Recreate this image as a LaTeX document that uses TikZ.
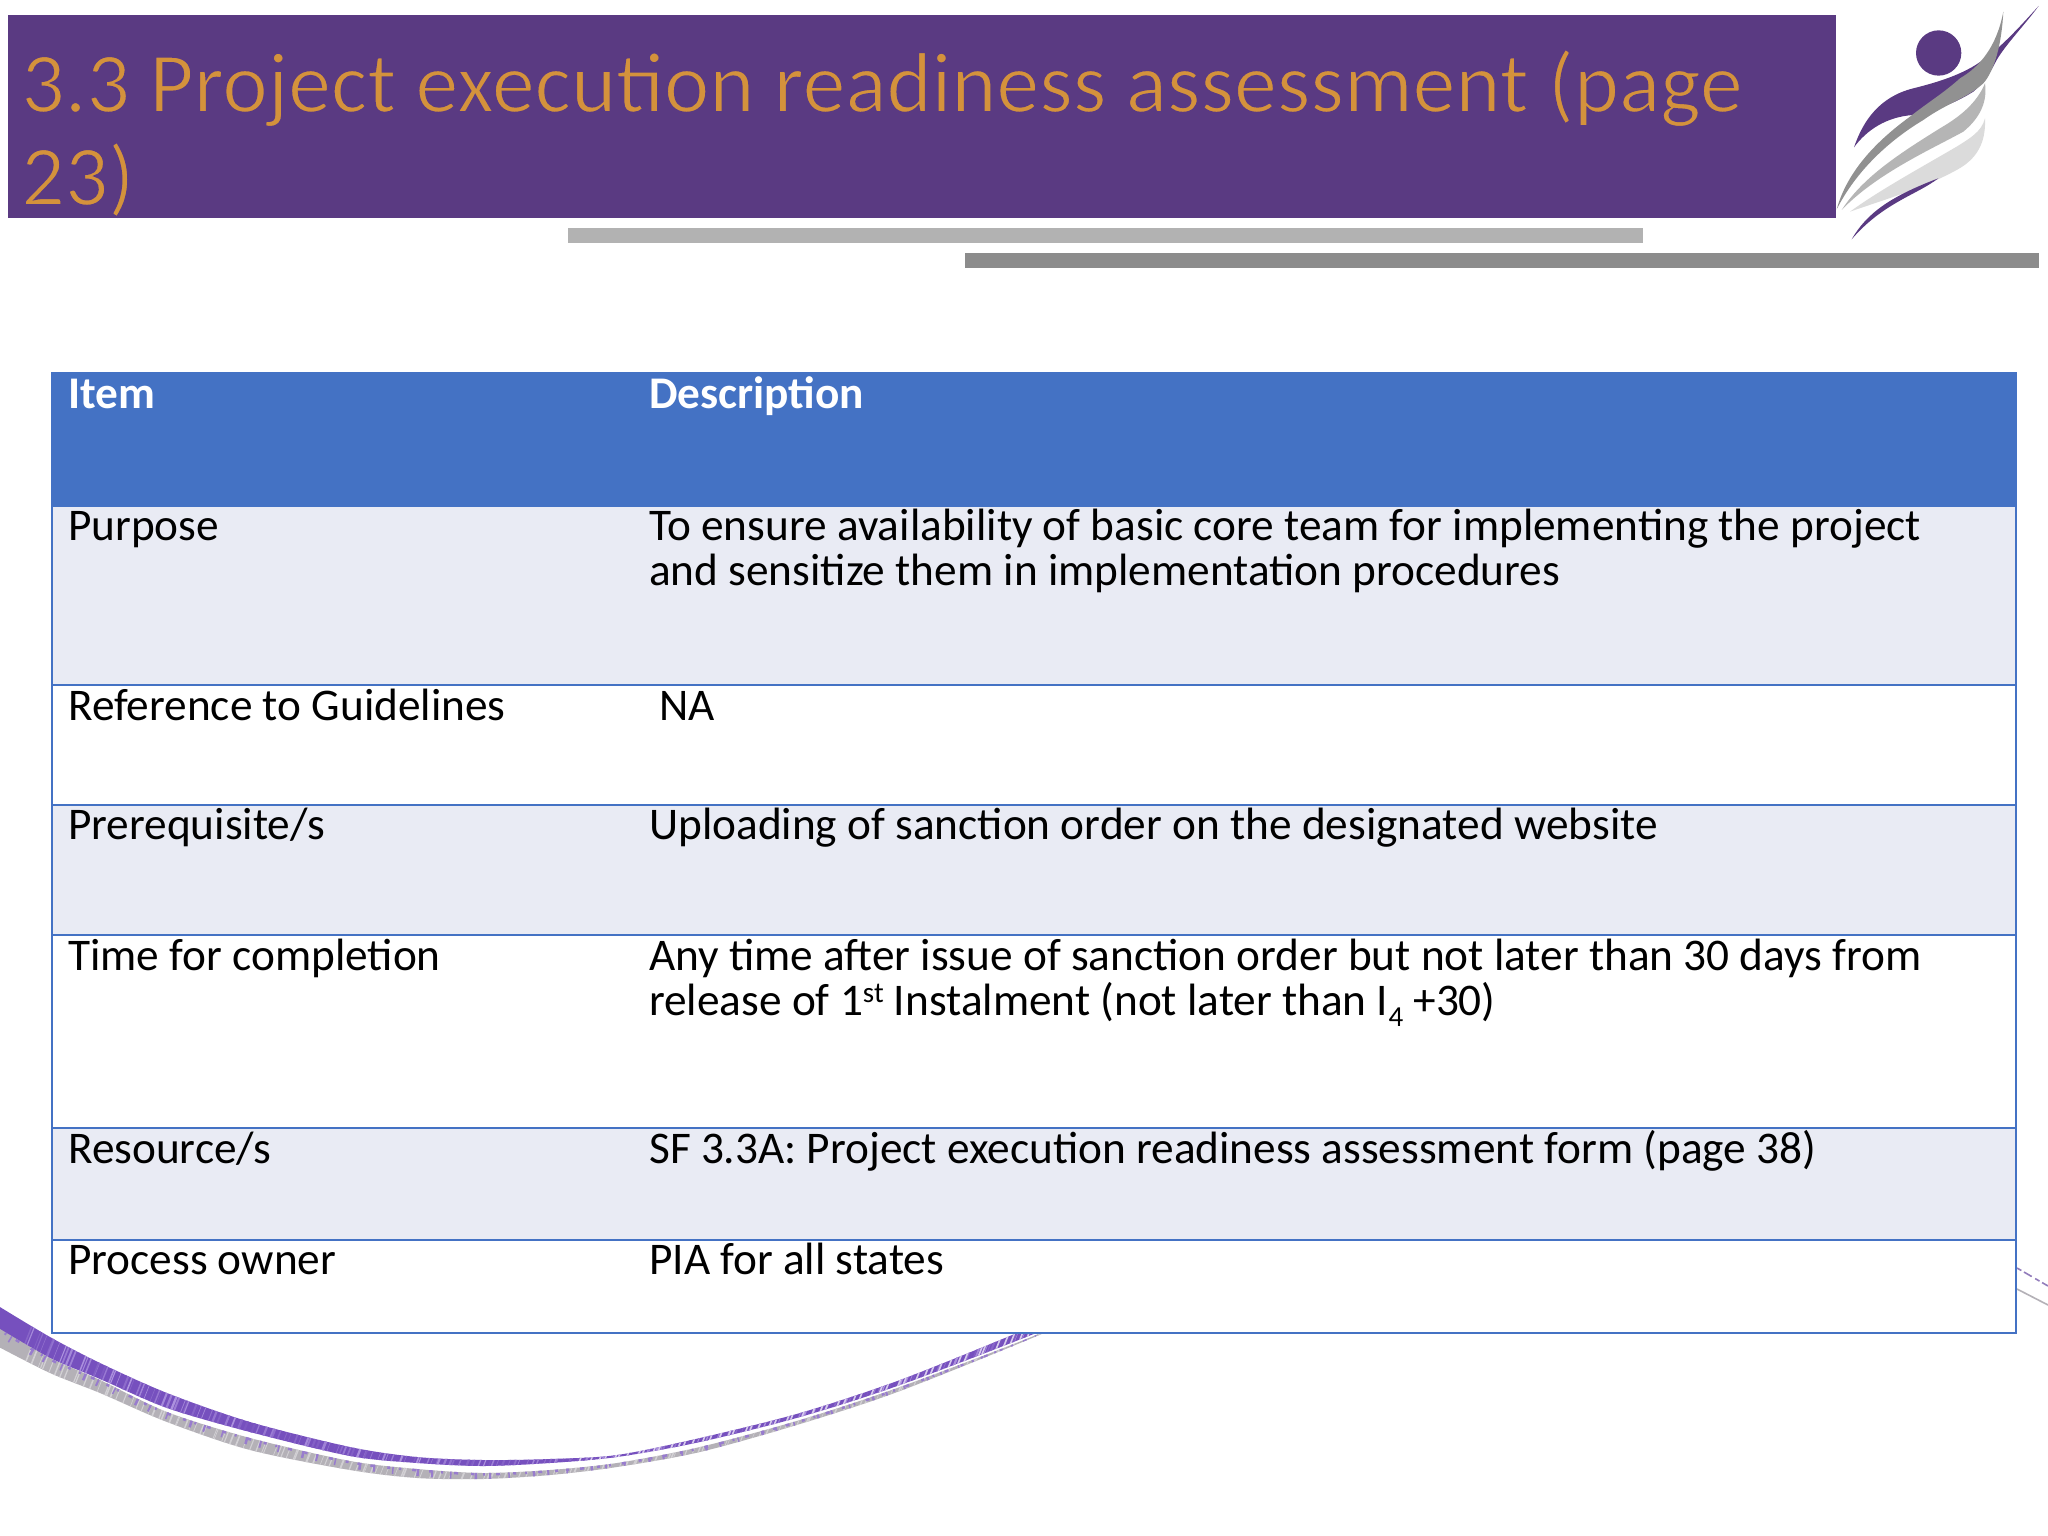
\documentclass[tikz,border=0pt]{standalone}
\usepackage{fontspec}
\setmainfont{Carlito}
\definecolor{banner}{HTML}{5A3A82}
\definecolor{titlecol}{HTML}{D4923C}
\definecolor{tblue}{HTML}{4472C4}
\definecolor{band}{HTML}{E9EBF4}
\definecolor{wave}{HTML}{7650BE}
\definecolor{wavelight}{HTML}{C4AEEC}
\definecolor{waveg}{HTML}{B4B1B7}
\newcommand{\thintext}[1]{\special{pdf:code 2 Tr 1.6 w 0.353 0.227 0.51 RG}#1\special{pdf:code 0 Tr}}
\tikzset{
  titletext/.style={anchor=base west,inner sep=0pt,text=titlecol,font=\fontsize{85.9}{86}\selectfont},
  celltext/.style={anchor=base west,inner sep=0pt,text=black,font=\fontsize{45.3}{45}\selectfont},
  headtext/.style={anchor=base west,inner sep=0pt,text=white,font=\fontsize{45.3}{45}\selectfont\bfseries},
  rowline/.style={draw=tblue,line width=2.6pt},
}
\newcommand{\purpleband}{plot[smooth] coordinates {(-5,1304)(50,1337)(100,1363)(167,1393)(250,1422)(350,1447)(417,1457)(483,1460)(550,1459)(617,1455)(700,1438)(800,1413)(900,1380)(1017,1333)(1040,1322)} -- plot[smooth] coordinates {(1052,1322)(1036,1333)(900,1385)(800,1417)(700,1442)(617,1457)(550,1463)(483,1466)(417,1463)(350,1456)(250,1432)(167,1408)(100,1379)(50,1358)(-5,1328)} -- cycle}
\newcommand{\grayband}{plot[smooth] coordinates {(-5,1326)(50,1358)(100,1380)(167,1412)(250,1438)(350,1461)(417,1469)(483,1473)(550,1470)(617,1463)(700,1447)(800,1420)(900,1387)(1036,1335)(1052,1322)} -- plot[smooth] coordinates {(1060,1322)(1044,1333)(900,1391)(800,1424)(700,1452)(617,1467)(550,1475)(483,1479)(417,1478)(350,1470)(250,1450)(167,1422)(100,1393)(50,1373)(-5,1345)} -- cycle}
\begin{document}
\begin{tikzpicture}[x=1pt,y=-1pt]
\useasboundingbox (0,0) rectangle (2048,1536);
\fill[white] (0,0) rectangle (2048,1536);
\pgfmathsetseed{4242}

% wave behind the table
\fill[wave] \purpleband;
\begin{scope}
\clip \purpleband;
\foreach \i in {1,...,230} {
  \pgfmathsetmacro{\xa}{\i*4.6+rnd*6}
  \pgfmathsetmacro{\wa}{0.5+rnd*1.8}
  \pgfmathsetmacro{\ca}{rnd*75}
  \draw[wavelight!\ca!wave,line width=\wa pt] (\xa-40,1490) -- (\xa+40,1290);
}
\foreach \i in {1,...,60} {
  \pgfmathsetmacro{\xa}{600+\i*7.5+rnd*5}
  \draw[white!70!wave,line width=1.6pt] (\xa-40,1490) -- (\xa+40,1290);
}
\end{scope}
\fill[waveg] \grayband;
\begin{scope}
\clip \grayband;
\foreach \i in {1,...,180} {
  \pgfmathsetmacro{\xa}{\i*6+rnd*8}
  \pgfmathsetmacro{\wa}{0.5+rnd*1.2}
  \draw[white!40!waveg,line width=\wa pt] (\xa-40,1500) -- (\xa+40,1300);
}
\draw[wave!75!white,line width=14pt,dash pattern=on 2pt off 17pt on 1.5pt off 23pt on 2.5pt off 12pt]
  plot[smooth] coordinates {(-5,1326)(50,1358)(100,1380)(167,1412)(250,1438)(350,1461)(417,1469)(483,1473)(550,1470)(617,1463)(700,1447)(800,1420)(900,1387)(1036,1335)};
\draw[wave!75!white,line width=5pt,dash pattern=on 3pt off 9pt on 2pt off 11pt on 4pt off 13pt]
  plot[smooth] coordinates {(-5,1326)(50,1358)(100,1380)(167,1412)(250,1438)(350,1461)(417,1469)(483,1473)(550,1470)(617,1463)(700,1447)(800,1420)(900,1387)(1036,1335)};
\end{scope}

% right-hand remnants of the wave
\draw[wave!55!waveg,line width=1.6pt,dash pattern=on 5pt off 3pt on 9pt off 4pt] (2017,1268) -- (2048,1286);
\draw[waveg,line width=1.6pt] (2017,1289) -- (2048,1305);

% header banner
\fill[banner] (8,15) rectangle (1836,218);
\fill[black!30] (568,228) rectangle (1643,243);
\fill[black!45] (965,253) rectangle (2039,268);
\begin{scope}
\clip (8,15) rectangle (1836,218);
\node[titletext] (t1) at (21,112) {\thintext{3.3 Project execution readiness assessment (page}};
\node[titletext] (t2) at (21,205) {\thintext{23)}};
\end{scope}

% logo
\begin{scope}[shift={(1800,0)},x=0.3333pt,y=-0.3333pt]
\fill[banner] (416,159) circle (68);
\fill[banner] (162,442) .. controls (190,360) and (240,290) .. (340,265)
  .. controls (400,250) and (450,235) .. (500,210)
  .. controls (580,170) and (650,90) .. (716,18)
  .. controls (670,80) and (620,130) .. (590,180)
  .. controls (570,220) and (550,250) .. (520,275)
  .. controls (480,300) and (420,330) .. (340,345)
  .. controls (260,350) and (200,390) .. (162,442) -- cycle;
\fill[black!43] (110,628) .. controls (140,520) and (220,430) .. (330,350)
  .. controls (380,310) and (430,280) .. (480,235)
  .. controls (540,200) and (590,140) .. (610,35)
  .. controls (605,130) and (585,210) .. (550,250)
  .. controls (500,295) and (440,310) .. (370,360)
  .. controls (270,420) and (170,510) .. (110,628) -- cycle;
\fill[black!29] (125,630) .. controls (190,530) and (300,460) .. (420,385)
  .. controls (480,350) and (530,310) .. (555,250)
  .. controls (562,300) and (545,350) .. (490,395)
  .. controls (400,445) and (230,520) .. (125,630) -- cycle;
\fill[black!14] (150,635) .. controls (240,570) and (350,510) .. (470,440)
  .. controls (510,415) and (545,395) .. (555,355)
  .. controls (557,410) and (545,470) .. (470,510)
  .. controls (370,565) and (250,600) .. (150,635) -- cycle;
\fill[banner] (155,718) .. controls (200,640) and (270,590) .. (415,535)
  .. controls (350,585) and (250,608) .. (155,718) -- cycle;
\end{scope}

% table
\fill[white] (52,373) rectangle (2016,1333);
\fill[tblue] (52,373) rectangle (2016,507);
\fill[band] (52,507) rectangle (2016,685);
\fill[band] (52,805) rectangle (2016,935);
\fill[band] (52,1128) rectangle (2016,1240);
\draw[rowline] (52,373) rectangle (2016,1333);
\foreach \yy in {685,805,935,1128,1240} \draw[rowline] (52,\yy) -- (2016,\yy);

\node[headtext] (h1) at (68,408) {Item};
\node[headtext] (h2) at (649,408) {Description};
\node[celltext] (a1) at (68,540) {Purpose};
\node[celltext] (b1) at (649,540) {To ensure availability of basic core team for implementing the project};
\node[celltext] (b1b) at (649,585) {and sensitize them in implementation procedures};
\node[celltext] (a2) at (68,720) {Reference to Guidelines};
\node[celltext] (b2) at (659,720) {NA};
\node[celltext] (a3) at (68,839) {Prerequisite/s};
\node[celltext] (b3) at (649,839) {Uploading of sanction order on the designated website};
\node[celltext] (a4) at (68,970) {Time for completion};
\node[celltext] (b4) at (649,970) {Any time after issue of sanction order but not later than 30 days from};
\node[celltext] (b4b) at (649,1015) {release of 1\raisebox{13pt}{\fontsize{29}{29}\selectfont st} Instalment (not later than I\raisebox{-11pt}{\fontsize{29}{29}\selectfont 4} +30)};
\node[celltext] (a5) at (68,1163) {Resource/s};
\node[celltext] (b5) at (649,1163) {SF 3.3A: Project execution readiness assessment form (page 38)};
\node[celltext] (a6) at (68,1274) {Process owner};
\node[celltext] (b6) at (649,1274) {PIA for all states};
\end{tikzpicture}
\end{document}
